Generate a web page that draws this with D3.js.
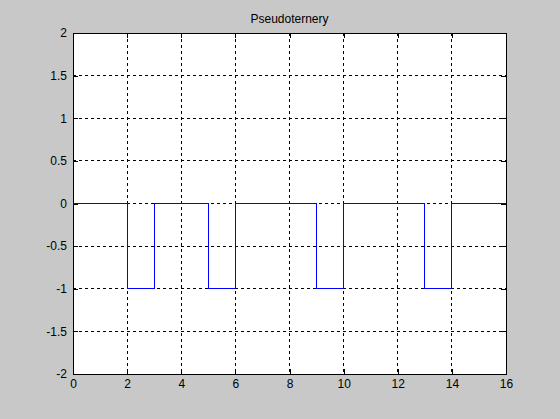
<!DOCTYPE html>
<html><head><meta charset="utf-8">
<script src="https://cdn.jsdelivr.net/npm/d3@7"></script>
<style>body{margin:0;background:#c8c8c8}</style></head>
<body><script>
const title = "Pseudoternery";
const bitTimes = [0,1,2,3,4,5,6,7,8,9,10,11,12,13,14,15,16];
const levels  = [0,0,-1,0,0,-1,0,0,0,-1,0,0,0,-1,0,0,0];
const xTicks = [0,2,4,6,8,10,12,14,16];
const yTicks = [-2,-1.5,-1,-0.5,0,0.5,1,1.5,2];

const W=560,H=419, L=73,R=506,T=33,B=374;
const svg=d3.select("body").append("svg").attr("width",W).attr("height",H)
  .style("font-family","Liberation Sans, Arial, sans-serif");
svg.append("rect").attr("width",W).attr("height",H).attr("fill","#c8c8c8");
const x=d3.scaleLinear().domain([0,16]).range([L,R]);
const y=d3.scaleLinear().domain([-2,2]).range([B,T]);
svg.append("rect").attr("x",L).attr("y",T).attr("width",R-L).attr("height",B-T).attr("fill","#fff");
const g=svg.append("g");
g.selectAll(".gx").data(xTicks.slice(1,-1)).join("line")
 .attr("x1",d=>x(d)).attr("x2",d=>x(d)).attr("y1",T).attr("y2",B)
 .attr("stroke","#000").attr("stroke-dasharray","3,3").attr("stroke-width",1).attr("shape-rendering","crispEdges");
g.selectAll(".gy").data(yTicks.slice(1,-1)).join("line")
 .attr("y1",d=>y(d)).attr("y2",d=>y(d)).attr("x1",L).attr("x2",R)
 .attr("stroke","#000").attr("stroke-dasharray","3,3").attr("stroke-width",1).attr("shape-rendering","crispEdges");
const line=d3.line().x(d=>x(d[0])).y(d=>y(d[1])).curve(d3.curveStepAfter);
svg.append("path").datum(bitTimes.map((t,i)=>[t,levels[i]]))
 .attr("d",line).attr("fill","none").attr("stroke","#0000ff").attr("stroke-width",1).attr("shape-rendering","crispEdges");
const ax=svg.append("g").attr("transform",`translate(0,${B})`)
 .call(d3.axisBottom(x).tickValues(xTicks).tickSize(-5).tickPadding(5).tickFormat(d3.format("d")));
const ax2=svg.append("g").attr("transform",`translate(0,${T})`)
 .call(d3.axisTop(x).tickValues(xTicks).tickSize(-5).tickFormat(""));
const ay=svg.append("g").attr("transform",`translate(${L},0)`)
 .call(d3.axisLeft(y).tickValues(yTicks).tickSize(-5).tickPadding(6).tickFormat(d=>String(d)));
const ay2=svg.append("g").attr("transform",`translate(${R},0)`)
 .call(d3.axisRight(y).tickValues(yTicks).tickSize(-5).tickFormat(""));
[ax,ax2,ay,ay2].forEach(a=>{a.selectAll("path,line").attr("stroke","#000").attr("shape-rendering","crispEdges");
 a.selectAll("text").attr("fill","#000").style("font-size","12px").style("font-family","Liberation Sans, Arial, sans-serif");});
svg.append("text").attr("x",(L+R)/2).attr("y",23).attr("text-anchor","middle")
 .style("font-size","12px").text(title);
</script></body></html>
